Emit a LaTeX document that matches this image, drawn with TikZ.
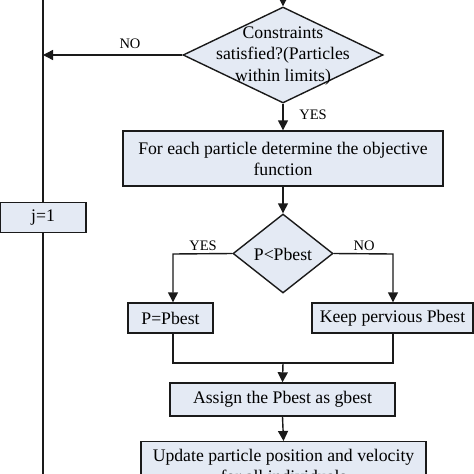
\documentclass[tikz,border=0pt]{standalone}
\usepackage{fontspec}
\setmainfont{Liberation Serif}
\usetikzlibrary{shapes.geometric,arrows.meta}
\definecolor{boxfill}{HTML}{E4EAF4}
\definecolor{edge}{HTML}{1A1A1A}
\tikzset{
  every picture/.style={x=1pt,y=-1pt},
  procbox/.style={draw=edge,fill=boxfill,line width=1.4pt,inner sep=0pt,font=\fontsize{17.7}{21}\selectfont,align=center},
  decbox/.style={draw=edge,fill=boxfill,line width=1.4pt,shape=diamond,inner sep=0pt},
  dectext/.style={font=\fontsize{17.7}{21.5}\selectfont,align=center,inner sep=0pt},
  lbl/.style={font=\fontsize{14.5}{16}\selectfont,inner sep=0pt},
  conn/.style={draw=edge,line width=1.4pt},
  arr/.style={conn,-{Triangle[length=10pt,width=10pt]}}
}
\begin{document}
\begin{tikzpicture}
\useasboundingbox (0,0) rectangle (474,474);
\clip (0,0) rectangle (474,474);
\fill[white] (0,0) rectangle (474,474);
% nodes
\node[decbox,minimum width=200pt,minimum height=96pt] (d1) at (283,55) {};
\node[dectext] (d1t) at (283,56) {Constraints\\satisfied?(Particles\\within limits)};
\node[procbox,minimum width=320pt,minimum height=55pt] (b2) at (283,158.5) {For each particle determine the objective\\function};
\node[decbox,minimum width=100pt,minimum height=79pt] (d2) at (283,253.5) {};
\node[dectext] (d2t) at (283,254) {P<Pbest};
\node[procbox,minimum width=85pt,minimum height=30pt] (p) at (170.5,318) {P=Pbest};
\node[procbox,minimum width=161pt,minimum height=30pt] (k) at (392.5,318) {Keep pervious Pbest};
\node[procbox,minimum width=225pt,minimum height=33pt] (a) at (282.5,399.5) {Assign the Pbest as gbest};
\node[procbox,minimum width=285pt,minimum height=60pt,anchor=north,align=center] (u) at (283.5,441) {\\[-21pt]Update particle position and velocity\\for all individuals};
\node[procbox,minimum width=86pt,minimum height=30pt] (j) at (43,217.5) {j=1};
% coordinates
\coordinate (ltop) at (43,-2);
\coordinate (lbot) at (43,480);
\coordinate (lno) at (43,55);
\coordinate (top) at (283,-2);
\coordinate (yesc) at (173,254);
\coordinate (noc) at (393,254);
\coordinate (jl) at (173,363);
\coordinate (jr) at (393,363);
\coordinate (jm) at (283,363);
% connectors
\draw[conn] (ltop) -- (j.north);
\draw[conn] (j.south) -- (lbot);
\draw[arr] (top) -- (d1.north);
\draw[arr] (d1.west) -- (lno);
\draw[arr] (d1.south) -- (b2.north);
\draw[arr] (b2.south) -- (d2.north);
\draw[arr] (d2.west) -- (yesc) -- (yesc |- p.north);
\draw[arr] (d2.east) -- (noc) -- (noc |- k.north);
\draw[conn] (yesc |- p.south) -- (jl) -- (jr) -- (noc |- k.south);
\draw[arr] (jm) -- (a.north);
\draw[arr] (a.south) -- (u.north);
% labels
\node[lbl] (lno1) at (130,44) {NO};
\node[lbl] (lyes1) at (313,115) {YES};
\node[lbl] (lyes2) at (203,246) {YES};
\node[lbl] (lno2) at (364,246) {NO};
\end{tikzpicture}
\end{document}
